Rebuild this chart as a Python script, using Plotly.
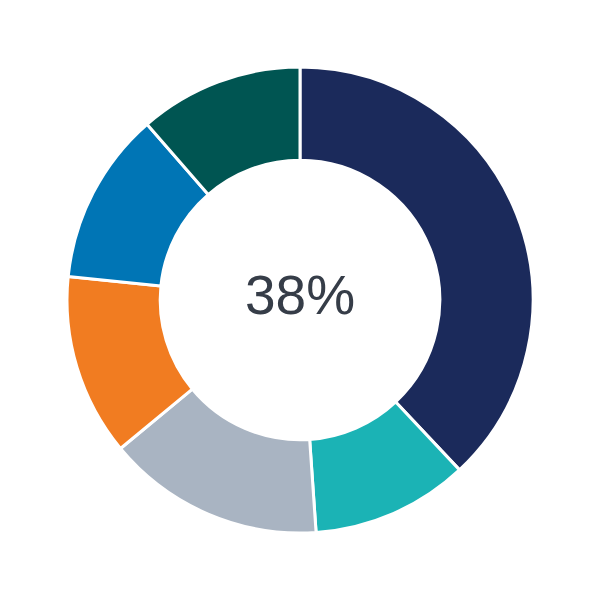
import plotly.graph_objects as go

# segment shares, clockwise from 12 o'clock
labels = ["Navy", "Teal", "Gray", "Orange", "Blue", "Green"]
values = [38, 10.9, 15.1, 12.6, 12, 11.4]
colors = ["#1b2a5b", "#1bb3b5", "#a9b4c2", "#f17c21", "#0075b5", "#005552"]
center_label = "38%"

fig = go.Figure(
    go.Pie(
        labels=labels,
        values=values,
        hole=0.6,
        sort=False,
        direction="clockwise",
        rotation=0,
        marker=dict(colors=colors, line=dict(color="white", width=3)),
        textinfo="none",
        hoverinfo="label+percent",
        showlegend=False,
    )
)

fig.add_annotation(
    text=center_label, x=0.5, y=0.51, xref="paper", yref="paper",
    showarrow=False, font=dict(family="Liberation Sans, Arial", size=55, color="#363d48"),
)

# page body has an 8px margin, so shift the plot area up/left to centre on 300,300
fig.update_layout(
    width=600, height=600,
    margin=dict(l=59, r=75, t=59, b=75),
    paper_bgcolor="white", plot_bgcolor="white",
)

fig.write_html("out.html")
